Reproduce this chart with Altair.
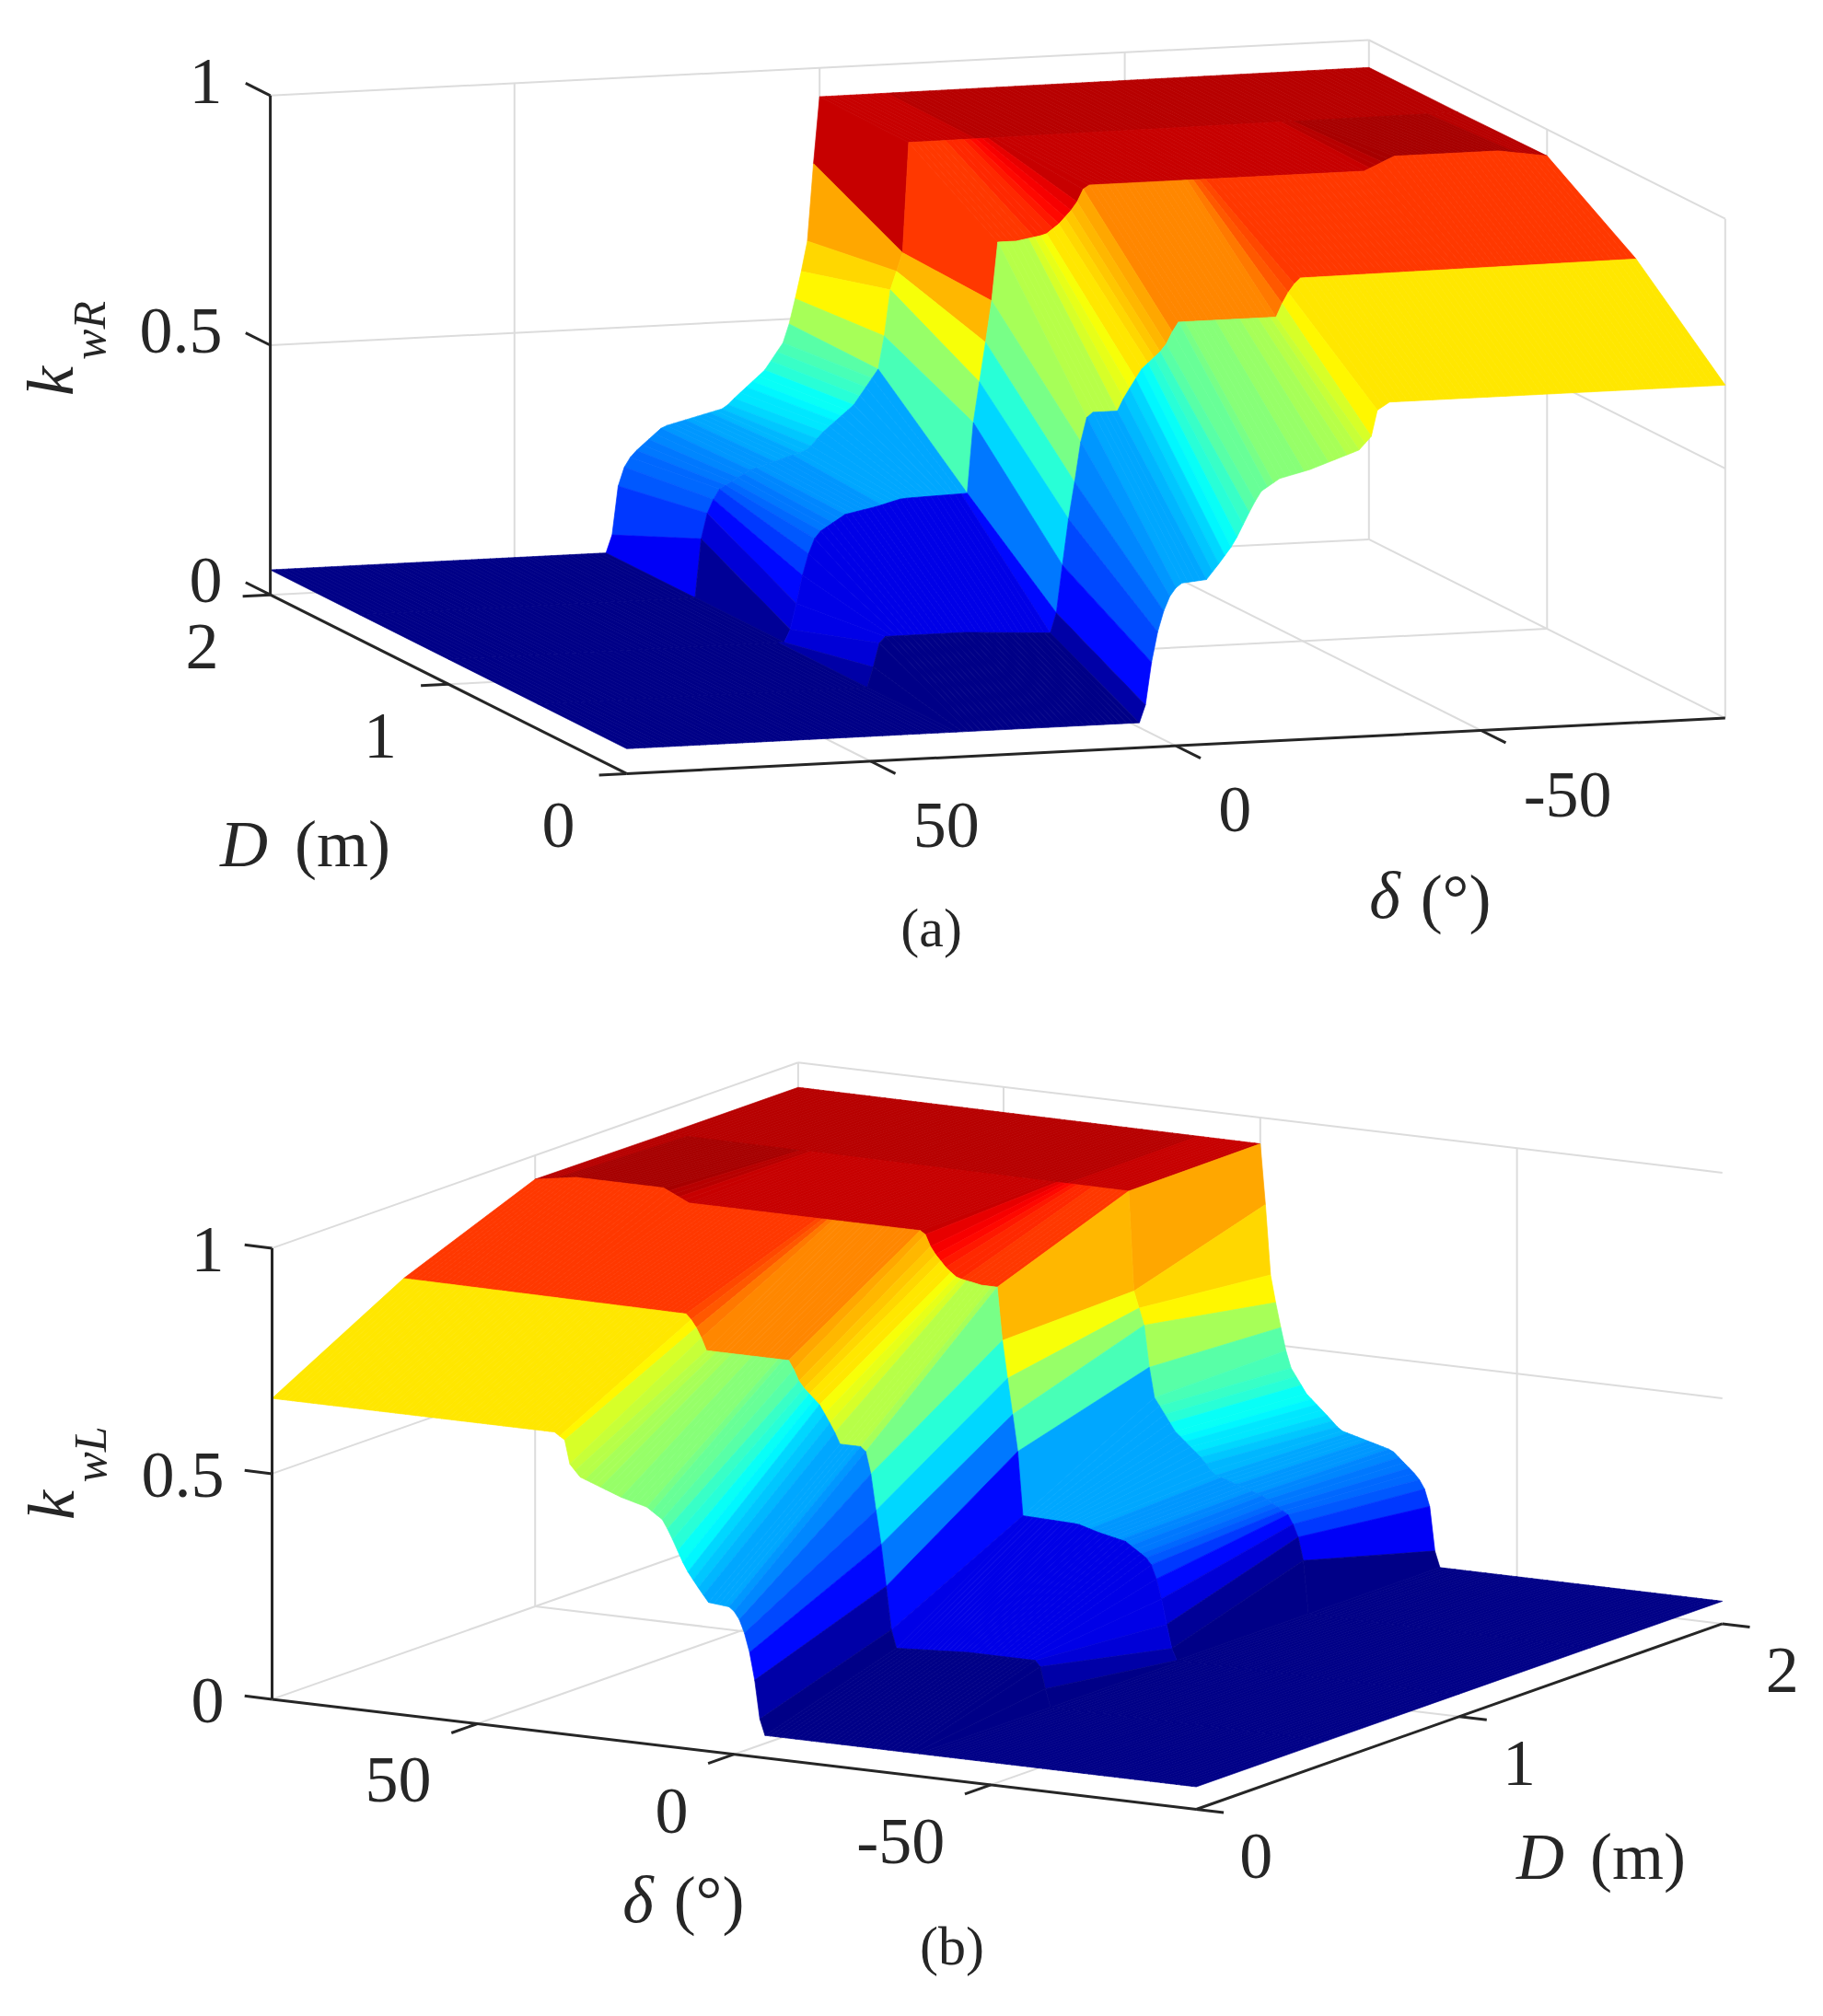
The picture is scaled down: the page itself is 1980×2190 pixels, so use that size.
import numpy as np
import pandas as pd
import altair as alt

# ------------------------------------------------------------------
# DATA: k_wR along delta (deg) for each D row (m)
# (panel (b) is the mirror image: k_wL(delta, D) = k_wR(-delta, D))
# ------------------------------------------------------------------
D_ROWS = [0.0, 0.5, 1.0, 1.5, 2.0]

DELTA_D00 = [90, 5.5, 4.5, 3.8, 2.4, 1.0, -0.5, -5, -7, -9.5, -12, -13.8, -17, -22, -30, -32, -33, -35, -90]
KWR_D00 = [0.05, 0.05, 0.12, 0.19, 0.26, 0.30, 0.325, 0.33, 0.36, 0.40, 0.46, 0.50, 0.525, 0.54, 0.574, 0.60, 0.652, 0.667, 0.667]

DELTA_D05 = [90, 35.5, 35, 34.3, 33.5, 20, 5.5, 4.5, 3.5, 2, 1, -0.2, -5, -6.2, -9, -12.7, -14.8, -31, -32.5, -34.7, -90]
KWR_D05 = [0.05, 0.05, 0.09, 0.13, 0.15, 0.15, 0.14, 0.22, 0.33, 0.44, 0.52, 0.578, 0.578, 0.607, 0.66, 0.70, 0.75, 0.75, 0.79, 0.826, 0.83]

DELTA_D10 = [90, 34.5, 33.5, 32.7, 31.5, 29.7, 25, 19.7, 15.75, 4.9, 4.1, 2.6, 1.1, 0.1, -3, -7.8, -10,
             -12.7, -14.3, -60, -65, -82, -90]
KWR_D10 = [0.05, 0.05, 0.10, 0.143, 0.21, 0.264, 0.30, 0.313, 0.326, 0.33, 0.463, 0.584, 0.70, 0.83, 0.83, 0.84, 0.86,
           0.895, 0.935, 0.935, 0.962, 0.962, 0.947]

DELTA_D15 = [90, 35, 34.5, 33.8, 32.5, 31, 26, 16.5, 14.3, 9, 4.6, 3.1, 0.8, 0.2, -90]
KWR_D15 = [0.05, 0.05, 0.11, 0.19, 0.235, 0.265, 0.30, 0.335, 0.366, 0.42, 0.496, 0.643, 0.727, 0.94, 0.945]

DELTA_D20 = [90, 34.5, 34.1, 33.1, 32, 30.7, 25.7, 15.6, 13.6, 9, 5.6, 3.4, 1.9, 1.2, 0.45, -90]
KWR_D20 = [0.05, 0.05, 0.075, 0.179, 0.22, 0.245, 0.297, 0.328, 0.351, 0.40, 0.46, 0.57, 0.66, 0.76, 0.942, 0.945]

ROWS = [(DELTA_D00, KWR_D00), (DELTA_D05, KWR_D05), (DELTA_D10, KWR_D10),
        (DELTA_D15, KWR_D15), (DELTA_D20, KWR_D20)]

Z_TICKS, Z_LABELS = [0, 0.5, 1], ["0", "0.5", "1"]
D_TICKS, D_LABELS = [0, 1, 2], ["0", "1", "2"]
DELTA_TICKS, DELTA_LABELS = [50, 0, -50], ["50", "0", "-50"]

CLIM = (0.05, 1.0)   # colour limits of the jet colormap
DELTA_STEP = 1.0     # sampling step of the surface mesh along delta

# ------------------------------------------------------------------
# LAYOUT / STYLE
# ------------------------------------------------------------------
FONT = "Liberation Serif"
INK = "#262626"
GRID = "#dcdcdc"
PROJ = dict(type="identity", scale=1, translate=[-8, -8])

PANELS = {
    "a": dict(origin=(680.6, 840.4), vdelta=(1193.2, -60.3), vd=(-387.0, -194.2), vz=(0.0, -542.4),
              mirror=False, side_delta=-90, zaxis=(90, 2.0), daxis_delta=90,
              ztick="vd", dtick="-vdelta",
              zlab=("right", -52, -14), dlab=("center", -74, 58), glab=("left", 46, 71)),
    "b": dict(origin=(295.5, 1845.9), vdelta=(1003.8, 119.6), vd=(571.4, -201.6), vz=(0.0, -490.0),
              mirror=True, side_delta=90, zaxis=(90, 0.0), daxis_delta=-90,
              ztick="-vdelta", dtick="vdelta",
              zlab=("right", -52, 3), dlab=("center", 65, 52), glab=("right", -50, 63)),
}
TICK_LEN = 30.0
LABEL_SIZE = 72


def proj(p, delta, D, z):
    u = (90.0 - delta) / 180.0
    v = D / 2.0
    x = p["origin"][0] + u * p["vdelta"][0] + v * p["vd"][0] + z * p["vz"][0]
    y = p["origin"][1] + u * p["vdelta"][1] + v * p["vd"][1] + z * p["vz"][1]
    return [round(float(x), 2), round(float(y), 2)]


def direction(p, name):
    sgn = -1.0 if name.startswith("-") else 1.0
    vx, vy = p[name.lstrip("-")]
    n = (vx * vx + vy * vy) ** 0.5
    return sgn * vx / n, sgn * vy / n


def jet_hex(val):
    t = (val - CLIM[0]) / (CLIM[1] - CLIM[0])
    t = min(max(t, 0.0), 1.0)
    idx = min(int(t * 64), 63)
    t = (idx + 0.5) / 64.0
    r = min(max(1.5 - abs(4 * t - 3), 0), 1)
    g = min(max(1.5 - abs(4 * t - 2), 0), 1)
    b = min(max(1.5 - abs(4 * t - 1), 0), 1)
    return "#%02x%02x%02x" % (int(round(r * 255)), int(round(g * 255)), int(round(b * 255)))


# mesh nodes along delta (rendering resolution of the read profiles)
nodes = np.arange(-90, 90 + DELTA_STEP / 2, DELTA_STEP)
Z = [np.interp(nodes, np.array(d, float)[::-1], np.array(k, float)[::-1]) for d, k in ROWS]


def surface_features(p):
    feats = []
    for j in range(len(D_ROWS) - 2, -1, -1):          # far strips first
        for m in range(len(nodes) - 1):                 # far to near inside a strip
            d0, d1 = nodes[m], nodes[m + 1]
            if p["mirror"]:
                e0, e1, cval = -d0, -d1, Z[j][m + 1]
            else:
                e0, e1, cval = d0, d1, Z[j][m]
            ring = [proj(p, e0, D_ROWS[j], Z[j][m]), proj(p, e1, D_ROWS[j], Z[j][m + 1]),
                    proj(p, e1, D_ROWS[j + 1], Z[j + 1][m + 1]), proj(p, e0, D_ROWS[j + 1], Z[j + 1][m])]
            ring.append(ring[0])
            feats.append({"type": "Feature", "geometry": {"type": "Polygon", "coordinates": [ring]},
                          "properties": {"c": jet_hex(cval)}})
    return feats


def seg(pts, color, width):
    return {"type": "Feature", "geometry": {"type": "LineString", "coordinates": pts},
            "properties": {"c": color, "w": width}}


def grid_features(p):
    f = []
    for z in Z_TICKS:
        f.append(seg([proj(p, 90, 2, z), proj(p, -90, 2, z)], GRID, 2))
        f.append(seg([proj(p, p["side_delta"], 0, z), proj(p, p["side_delta"], 2, z)], GRID, 2))
    for dl in DELTA_TICKS + [p["side_delta"]]:
        f.append(seg([proj(p, dl, 2, 0), proj(p, dl, 2, 1)], GRID, 2))
    for D in [0, 1]:
        f.append(seg([proj(p, p["side_delta"], D, 0), proj(p, p["side_delta"], D, 1)], GRID, 2))
    for dl in DELTA_TICKS:
        f.append(seg([proj(p, dl, 0, 0), proj(p, dl, 2, 0)], GRID, 2))
    f.append(seg([proj(p, 90, 1, 0), proj(p, -90, 1, 0)], GRID, 2))
    return f


def axis_features(p):
    f = []
    zd, zD = p["zaxis"]
    f.append(seg([proj(p, zd, zD, 0), proj(p, zd, zD, 1)], INK, 3))
    f.append(seg([proj(p, p["daxis_delta"], 0, 0), proj(p, p["daxis_delta"], 2, 0)], INK, 3))
    f.append(seg([proj(p, 90, 0, 0), proj(p, -90, 0, 0)], INK, 3))
    ux, uy = direction(p, p["ztick"])
    for z in Z_TICKS:
        a = proj(p, zd, zD, z)
        f.append(seg([a, [a[0] + ux * TICK_LEN, a[1] + uy * TICK_LEN]], INK, 3))
    ux, uy = direction(p, p["dtick"])
    for D in D_TICKS:
        a = proj(p, p["daxis_delta"], D, 0)
        f.append(seg([a, [a[0] + ux * TICK_LEN, a[1] + uy * TICK_LEN]], INK, 3))
    ux, uy = direction(p, "-vd")
    for dl in DELTA_TICKS:
        a = proj(p, dl, 0, 0)
        f.append(seg([a, [a[0] + ux * TICK_LEN, a[1] + uy * TICK_LEN]], INK, 3))
    return f


def tick_label_rows(p):
    out = {}
    zd, zD = p["zaxis"]
    al, ox, oy = p["zlab"]
    out.setdefault(al, []).extend(
        [(t, proj(p, zd, zD, z)[0] + ox, proj(p, zd, zD, z)[1] + oy) for z, t in zip(Z_TICKS, Z_LABELS)])
    al, ox, oy = p["dlab"]
    out.setdefault(al, []).extend(
        [(t, proj(p, p["daxis_delta"], D, 0)[0] + ox, proj(p, p["daxis_delta"], D, 0)[1] + oy)
         for D, t in zip(D_TICKS, D_LABELS)])
    al, ox, oy = p["glab"]
    out.setdefault(al, []).extend(
        [(t, proj(p, dl, 0, 0)[0] + ox, proj(p, dl, 0, 0)[1] + oy) for dl, t in zip(DELTA_TICKS, DELTA_LABELS)])
    return out


def geo_layer(feats, filled):
    ch = alt.Chart(alt.Data(values=feats))
    if filled:
        ch = ch.mark_geoshape(strokeWidth=0.7, strokeJoin="round").encode(
            fill=alt.Fill("properties.c:N", scale=None),
            stroke=alt.Stroke("properties.c:N", scale=None))
    else:
        ch = ch.mark_geoshape(filled=False, strokeCap="butt").encode(
            stroke=alt.Stroke("properties.c:N", scale=None),
            strokeWidth=alt.StrokeWidth("properties.w:Q", scale=None))
    return ch.project(**PROJ)


def text_layer(rows, size, style="normal", align="center", angle=0):
    df = pd.DataFrame(rows, columns=["t", "lon", "lat"])
    return alt.Chart(df).mark_text(font=FONT, fontSize=size, fontStyle=style, align=align,
                                   baseline="middle", angle=angle, color=INK).encode(
        longitude="lon:Q", latitude="lat:Q", text="t:N").project(**PROJ)


layers = []
for key in ["a", "b"]:
    p = PANELS[key]
    layers.append(geo_layer(grid_features(p), False))
    layers.append(geo_layer(surface_features(p), True))
    layers.append(geo_layer(axis_features(p), False))
    for al, rows in tick_label_rows(p).items():
        layers.append(text_layer(rows, LABEL_SIZE, align=al))

# axis titles and panel captions
layers.append(text_layer([("k", 56.5, 414), ("k", 58, 1635)], LABEL_SIZE, style="italic", angle=270))
layers.append(text_layer([("wR", 98.5, 359), ("wL", 100, 1580)], 50, style="italic", angle=270))
layers.append(text_layer([("D", 265, 919), ("D", 1673, 2019), ("δ", 1504, 975), ("δ", 693, 2066)],
                         LABEL_SIZE, style="italic"))
layers.append(text_layer([("(m)", 372, 919), ("(m)", 1779, 2019), ("(°)", 1581, 978), ("(°)", 770, 2066)],
                         LABEL_SIZE))
layers.append(text_layer([("(a)", 1011.6, 1010), ("(b)", 1034, 2116)], 60))

chart = alt.layer(*layers).properties(
    width=1964, height=2174, padding=0, autosize="none", background="white"
).configure_view(stroke=None)

chart.save("out.html", embed_options={"renderer": "svg", "actions": False})
